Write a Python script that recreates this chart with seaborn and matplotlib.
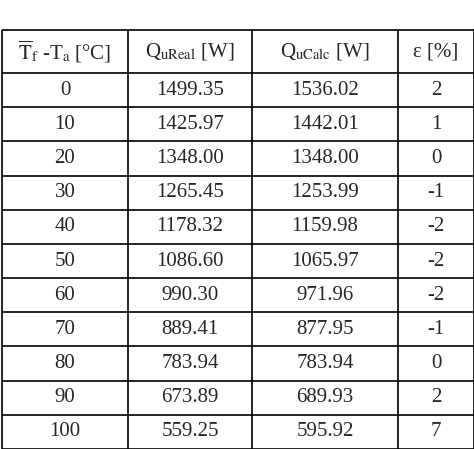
import matplotlib
matplotlib.use("Agg")
import matplotlib.pyplot as plt
import seaborn as sns

# Datos de la tabla
temp_diff = [0, 10, 20, 30, 40, 50, 60, 70, 80, 90, 100]
q_real = ["1499.35", "1425.97", "1348.00", "1265.45", "1178.32", "1086.60",
          "990.30", "889.41", "783.94", "673.89", "559.25"]
q_calc = ["1536.02", "1442.01", "1348.00", "1253.99", "1159.98", "1065.97",
          "971.96", "877.95", "783.94", "689.93", "595.92"]
error_pct = [2, 1, 0, -1, -2, -2, -2, -1, 0, 2, 7]
headers = [r"$\overline{\mathrm{T}}_{\mathrm{f}}$ -T$_{\mathrm{a}}$ [°C]",
           r"Q$_{\mathrm{uReal}}$ [W]", r"Q$_{\mathrm{uCalc}}$ [W]", "ε [%]"]

sns.set_theme(style="white")
plt.rcParams["font.family"] = ["Liberation Serif", "DejaVu Serif"]
plt.rcParams["mathtext.fontset"] = "stix"

W, H = 474, 449
fig = plt.figure(figsize=(W / 100, H / 100), dpi=100)
ax = fig.add_axes([0, 0, 1, 1])
ax.set_xlim(0, W)
ax.set_ylim(H, 0)
ax.axis("off")

col_edges = [2, 128, 252, 398, 474]
top, head_bot = 30, 73
row_h = (H - head_bot) / len(temp_diff)
row_edges = [top, head_bot] + [head_bot + row_h * (i + 1) for i in range(len(temp_diff))]

ax.hlines(row_edges, col_edges[0], col_edges[-1], color="black", lw=1.2)
ax.vlines(col_edges, top, H, color="black", lw=1.2)

centers = [(col_edges[i] + col_edges[i + 1]) / 2 for i in range(4)]
for c, h in zip(centers, headers):
    ax.text(c, (top + head_bot) / 2, h, ha="center", va="center", fontsize=15)

for i, row in enumerate(zip(temp_diff, q_real, q_calc, error_pct)):
    y = head_bot + row_h * (i + 0.5)
    for c, v in zip(centers, row):
        ax.text(c, y, str(v), ha="center", va="center", fontsize=15)

fig.savefig("out.png", dpi=100)
